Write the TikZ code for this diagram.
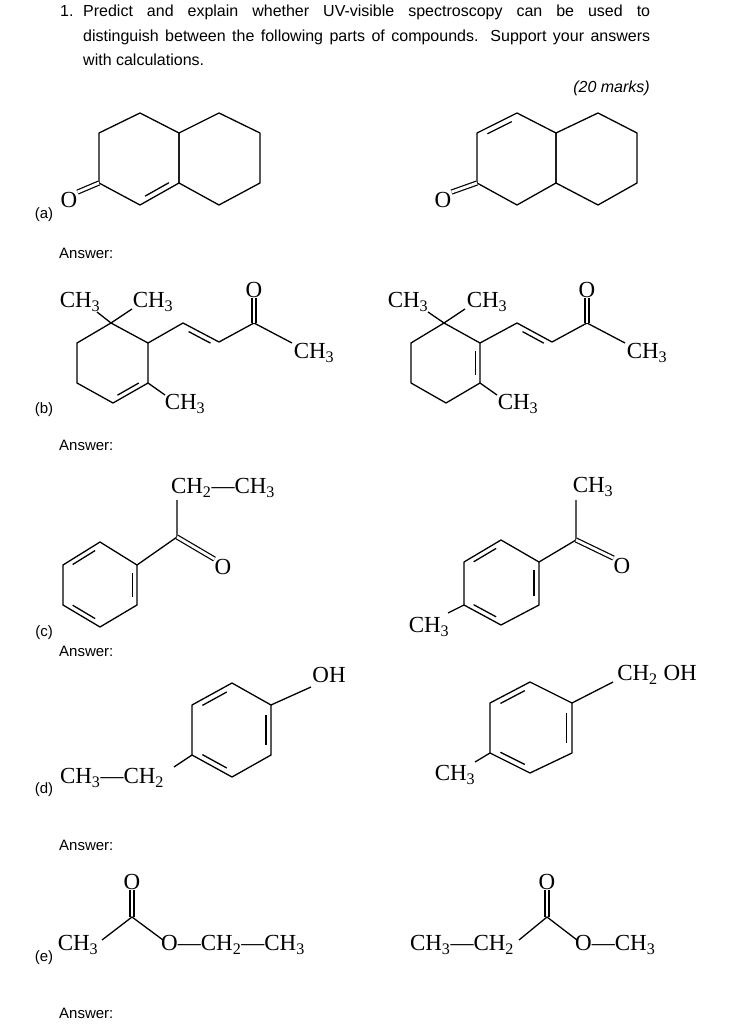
\documentclass[tikz,border=0pt]{standalone}
\usepackage{fontspec}
\setmainfont{Liberation Sans}
\newfontfamily\chem{Liberation Serif}
\usetikzlibrary{calc}
\tikzset{
  bond/.style={line width=1.3pt},
  dbond/.style={line width=1.2pt,double,double distance=2.8pt},
  lbl/.style={inner sep=0pt,font=\fontsize{15}{17}\selectfont},
  ch/.style={inner sep=0pt,font=\chem\fontsize{23}{25}\selectfont},
  txt/.style={inner sep=0pt,font=\fontsize{16}{24.5}\selectfont}
}
\newcommand\inb[3]{\draw[bond] ($(#1)!0.15!(#2)!0.13!(#3)$) -- ($(#2)!0.15!(#1)!0.13!(#3)$);}
\newcommand\hexa[7]{%
  \coordinate (#1-1) at #2; \coordinate (#1-2) at #3; \coordinate (#1-3) at #4;
  \coordinate (#1-4) at #5; \coordinate (#1-5) at #6; \coordinate (#1-6) at #7;
  \coordinate (#1-c) at ($(#1-1)!0.5!(#1-4)$);
  \draw[bond,line join=round] (#1-1)--(#1-2)--(#1-3)--(#1-4)--(#1-5)--(#1-6)--cycle;}
\newcommand\sub[1]{\textsubscript{#1}}
\begin{document}
\begin{tikzpicture}[x=1pt,y=-1pt]
\useasboundingbox (0,0) rectangle (741,1024);
\fill[white] (0,0) rectangle (741,1024);
% header
\node[txt,anchor=north west] (num) at (60,5) {1.};
\node[txt,anchor=north west,align=left] (q) at (83,5)
 {\makebox[567pt][s]{Predict and explain whether UV-visible spectroscopy can be used to}\\
  \makebox[567pt][s]{distinguish between the following parts of compounds. Support your answers}\\
  with calculations.};
\node[txt,anchor=east,font=\itshape\fontsize{16}{18}\selectfont] (marks) at (650,88) {(20 marks)};
% labels
\node[lbl] (la) at (44,215) {(a)};
\node[lbl,anchor=west] (ans1) at (59,253) {Answer:};
\node[lbl] (lb) at (44,410) {(b)};
\node[lbl,anchor=west] (ans2) at (59,445) {Answer:};
\node[lbl] (lc) at (44,633) {(c)};
\node[lbl,anchor=west] (ans3) at (59,651) {Answer:};
\node[lbl] (ld) at (44,790) {(d)};
\node[lbl,anchor=west] (ans4) at (59,845) {Answer:};
\node[lbl] (le) at (44,958) {(e)};
\node[lbl,anchor=west] (ans5) at (59,1013) {Answer:};
% (a) left
\hexa{A}{(140,113)}{(179,133)}{(179,183)}{(140,205)}{(99,183)}{(99,133)}
\hexa{B}{(219,113)}{(260,133)}{(260,183)}{(219,205)}{(179,183)}{(179,133)}
\inb{A-3}{A-4}{A-c}
\node[ch] (Oa) at (69,200) {O};
\draw[dbond] (A-5) -- (Oa.north east);
% (a) right
\hexa{C}{(517,113)}{(556,133)}{(556,183)}{(517,205)}{(477,183)}{(477,133)}
\hexa{D}{(598,113)}{(637,133)}{(637,183)}{(598,205)}{(556,183)}{(556,133)}
\inb{C-6}{C-1}{C-c}
\node[ch] (Ob) at (443,200) {O};
\draw[dbond] (C-5) -- (Ob.north east);
% (b) left
\hexa{E}{(111,323)}{(148,343)}{(148,383)}{(113,403)}{(77,383)}{(77,343)}
\inb{E-3}{E-4}{E-c}
\node[ch] (e1) at (80,302) {CH\sub{3}};
\node[ch] (e2) at (153,302) {CH\sub{3}};
\draw[bond] (E-1) -- (97,312); \draw[bond] (E-1) -- (132,309);
\coordinate (ec1) at (183,323); \coordinate (ec2) at (219,342);
\coordinate (ec3) at (254,323); \coordinate (ec4) at (292,343);
\coordinate (eside) at (190,370);
\draw[bond,line join=round] (E-2)--(ec1)--(ec2)--(ec3)--(ec4);
\inb{ec1}{ec2}{eside}
\node[ch] (eo) at (254,290) {O};
\draw[dbond] (ec3) -- (eo.south);
\node[ch] (e3) at (314,353) {CH\sub{3}};
\draw[bond] (E-3) -- (165,395);
\node[ch] (e4) at (185,404) {CH\sub{3}};
% (b) right
\hexa{F}{(444,323)}{(480,343)}{(480,383)}{(446,403)}{(411,383)}{(411,343)}
\inb{F-2}{F-3}{F-c}
\node[ch] (f1) at (408,302) {CH\sub{3}};
\node[ch] (f2) at (487,302) {CH\sub{3}};
\draw[bond] (F-1) -- (428,312); \draw[bond] (F-1) -- (465,309);
\coordinate (fc1) at (517,323); \coordinate (fc2) at (552,342);
\coordinate (fc3) at (587,323); \coordinate (fc4) at (625,343);
\coordinate (fside) at (524,370);
\draw[bond,line join=round] (F-2)--(fc1)--(fc2)--(fc3)--(fc4);
\inb{fc1}{fc2}{fside}
\node[ch] (fo) at (587,290) {O};
\draw[dbond] (fc3) -- (fo.south);
\node[ch] (f3) at (647,353) {CH\sub{3}};
\draw[bond] (F-3) -- (497,395);
\node[ch] (f4) at (518,404) {CH\sub{3}};
% (c) left
\hexa{G}{(100,542)}{(137,565)}{(137,605)}{(100,627)}{(63,605)}{(63,565)}
\inb{G-6}{G-1}{G-c}\inb{G-2}{G-3}{G-c}\inb{G-4}{G-5}{G-c}
\coordinate (gc) at (177,537);
\node[ch] (g1) at (223,488) {CH\sub{2}—CH\sub{3}};
\draw[bond] (G-2) -- (gc) -- (177,500);
\node[ch] (go) at (223,567) {O};
\draw[dbond] (gc) -- (go.north west);
% (c) right
\hexa{H}{(501,540)}{(539,562)}{(539,605)}{(501,625)}{(464,605)}{(464,562)}
\inb{H-6}{H-1}{H-c}\inb{H-2}{H-3}{H-c}\inb{H-4}{H-5}{H-c}
\coordinate (hc) at (576,540);
\node[ch] (h1) at (593,487) {CH\sub{3}};
\draw[bond] (H-2) -- (hc) -- (576,500);
\node[ch] (ho) at (622,566) {O};
\draw[dbond] (hc) -- (ho.north west);
\node[ch] (h2) at (429,627) {CH\sub{3}};
\draw[bond] (H-5) -- (448,613);
% (d) left
\hexa{I}{(232,683)}{(271,705)}{(271,755)}{(232,777)}{(192,755)}{(192,705)}
\inb{I-6}{I-1}{I-c}\inb{I-2}{I-3}{I-c}\inb{I-4}{I-5}{I-c}
\node[ch] (i1) at (329,675) {OH};
\draw[bond] (I-2) -- (311,687);
\node[ch] (i2) at (112,778) {CH\sub{3}—CH\sub{2}};
\draw[bond] (I-5) -- (174,767);
% (d) right
\hexa{J}{(530,682)}{(572,703)}{(572,753)}{(530,773)}{(490,753)}{(490,703)}
\inb{J-6}{J-1}{J-c}\inb{J-2}{J-3}{J-c}\inb{J-4}{J-5}{J-c}
\node[ch] (j1) at (657,675) {CH\sub{2} OH};
\draw[bond] (J-2) -- (613,682);
\node[ch] (j2) at (455,775) {CH\sub{3}};
\draw[bond] (J-5) -- (475,762);
% (e) left
\coordinate (kc) at (132,917);
\node[ch] (ko) at (132,882) {O};
\draw[dbond] (kc) -- (ko.south);
\node[ch] (k1) at (78,945) {CH\sub{3}};
\node[ch,anchor=west] (k2) at (161,945) {O—CH\sub{2}—CH\sub{3}};
\draw[bond] (102,940) -- (kc) -- (163,940);
% (e) right
\coordinate (mc) at (547,917);
\node[ch] (mo) at (547,882) {O};
\draw[dbond] (mc) -- (mo.south);
\node[ch] (m1) at (462,945) {CH\sub{3}—CH\sub{2}};
\node[ch,anchor=west] (m2) at (575,945) {O—CH\sub{3}};
\draw[bond] (519,940) -- (mc) -- (577,940);
\end{tikzpicture}
\end{document}
